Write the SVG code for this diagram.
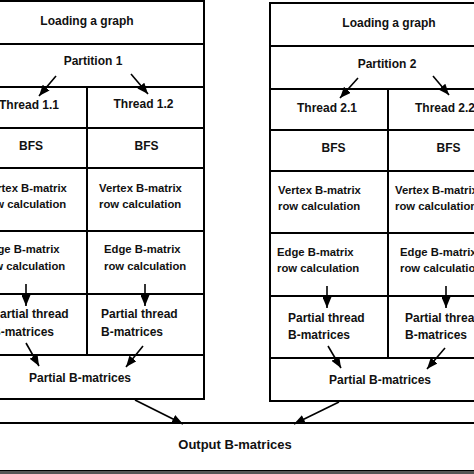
<svg xmlns="http://www.w3.org/2000/svg" width="474" height="474" viewBox="0 0 474 474">
<style>
.c{fill:#fff;stroke:#000;stroke-width:2}
.t{font-family:"Liberation Sans",Arial,Helvetica,sans-serif;font-weight:bold;font-size:12px;fill:#111}
.s{font-size:11.3px}
.m{text-anchor:middle}
.a{stroke:#000;stroke-width:1.6;fill:none;marker-end:url(#ah)}
</style>
<defs>
<marker id="ah" markerUnits="userSpaceOnUse" markerWidth="11" markerHeight="9" refX="11" refY="4.5" orient="auto">
<path d="M0,0 L11,4.5 L0,9 z" fill="#000"/>
</marker>
</defs>
<rect x="0" y="0" width="474" height="474" fill="#fff"/>
<g id="left-panel">
<g id="load1"><rect class="c" x="-29" y="1" width="233" height="43"/><text class="t m" x="87" y="25">Loading a graph</text></g>
<g id="part1"><rect class="c" x="-29" y="44" width="233" height="43"/><text class="t m" x="93" y="65">Partition 1</text></g>
<g id="th11"><rect class="c" x="-29" y="87" width="116" height="41"/><text class="t m" x="29" y="109">Thread 1.1</text></g>
<g id="th12"><rect class="c" x="87" y="87" width="117" height="41"/><text class="t m" x="143.5" y="108">Thread 1.2</text></g>
<g id="bfs11"><rect class="c" x="-29" y="128" width="116" height="40"/><text class="t m" x="31" y="150">BFS</text></g>
<g id="bfs12"><rect class="c" x="87" y="128" width="117" height="40"/><text class="t m" x="146.5" y="150">BFS</text></g>
<g id="vx11"><rect class="c" x="-29" y="168" width="116" height="63"/><text class="t s" x="-16" y="192">Vertex B-matrix</text><text class="t s" x="-16" y="208">row calculation</text></g>
<g id="vx12"><rect class="c" x="87" y="168" width="117" height="63"/><text class="t s" x="99" y="192">Vertex B-matrix</text><text class="t s" x="99" y="208">row calculation</text></g>
<g id="ed11"><rect class="c" x="-29" y="231" width="116" height="63"/><text class="t s" x="-17" y="253">Edge B-matrix</text><text class="t s" x="-17" y="270">row calculation</text></g>
<g id="ed12"><rect class="c" x="87" y="231" width="117" height="63"/><text class="t s" x="104" y="253">Edge B-matrix</text><text class="t s" x="104" y="270">row calculation</text></g>
<g id="pt11"><rect class="c" x="-29" y="294" width="116" height="61"/><text class="t" x="-8" y="318">Partial thread</text><text class="t" x="-8" y="336">B-matrices</text></g>
<g id="pt12"><rect class="c" x="87" y="294" width="117" height="61"/><text class="t" x="101" y="318">Partial thread</text><text class="t" x="101" y="336">B-matrices</text></g>
<g id="pb1"><rect class="c" x="-29" y="355" width="233" height="44"/><text class="t m" x="80" y="382">Partial B-matrices</text></g>
</g>
<g id="right-panel">
<g id="load2"><rect class="c" x="270" y="3" width="238" height="43"/><text class="t m" x="389" y="27">Loading a graph</text></g>
<g id="part2"><rect class="c" x="270" y="46" width="238" height="43"/><text class="t m" x="387" y="68">Partition 2</text></g>
<g id="th21"><rect class="c" x="270" y="89" width="118" height="41"/><text class="t m" x="327" y="112">Thread 2.1</text></g>
<g id="th22"><rect class="c" x="388" y="89" width="120" height="41"/><text class="t m" x="445" y="112">Thread 2.2</text></g>
<g id="bfs21"><rect class="c" x="270" y="130" width="118" height="41"/><text class="t m" x="333.5" y="152">BFS</text></g>
<g id="bfs22"><rect class="c" x="388" y="130" width="120" height="41"/><text class="t m" x="448.5" y="152">BFS</text></g>
<g id="vx21"><rect class="c" x="270" y="171" width="118" height="62"/><text class="t s" x="278" y="194">Vertex B-matrix</text><text class="t s" x="278" y="210">row calculation</text></g>
<g id="vx22"><rect class="c" x="388" y="171" width="120" height="62"/><text class="t s" x="395" y="194">Vertex B-matrix</text><text class="t s" x="395" y="210">row calculation</text></g>
<g id="ed21"><rect class="c" x="270" y="233" width="118" height="63"/><text class="t s" x="277" y="256">Edge B-matrix</text><text class="t s" x="277" y="272">row calculation</text></g>
<g id="ed22"><rect class="c" x="388" y="233" width="120" height="63"/><text class="t s" x="400" y="256">Edge B-matrix</text><text class="t s" x="400" y="272">row calculation</text></g>
<g id="pt21"><rect class="c" x="270" y="296" width="118" height="62"/><text class="t" x="288" y="322">Partial thread</text><text class="t" x="288" y="339">B-matrices</text></g>
<g id="pt22"><rect class="c" x="388" y="296" width="120" height="62"/><text class="t" x="405" y="322">Partial thread</text><text class="t" x="405" y="339">B-matrices</text></g>
<g id="pb2"><rect class="c" x="270" y="358" width="238" height="43"/><text class="t m" x="380" y="384">Partial B-matrices</text></g>
</g>
<g id="output"><rect class="c" x="-5" y="423" width="484" height="48"/><text class="t m" x="235" y="449" style="font-size:13px">Output B-matrices</text></g>
<rect x="0" y="471" width="474" height="3" fill="#555"/>
<g id="connectors">
<line class="a" x1="56" y1="76" x2="39" y2="96"/>
<line class="a" x1="131" y1="74" x2="148" y2="94"/>
<line class="a" x1="358" y1="78" x2="340" y2="98"/>
<line class="a" x1="433" y1="76" x2="449" y2="95"/>
<line class="a" x1="26" y1="284" x2="26" y2="306"/>
<line class="a" x1="145" y1="284" x2="145" y2="306"/>
<line class="a" x1="327" y1="286" x2="327" y2="308"/>
<line class="a" x1="446" y1="286" x2="446" y2="308"/>
<line class="a" x1="26" y1="343" x2="39" y2="366"/>
<line class="a" x1="143" y1="346" x2="126" y2="367"/>
<line class="a" x1="328" y1="346" x2="341" y2="368"/>
<line class="a" x1="445" y1="348" x2="427" y2="369"/>
<line class="a" x1="135" y1="400" x2="183" y2="424"/>
<line class="a" x1="339" y1="402" x2="294" y2="424"/>
</g>
</svg>
